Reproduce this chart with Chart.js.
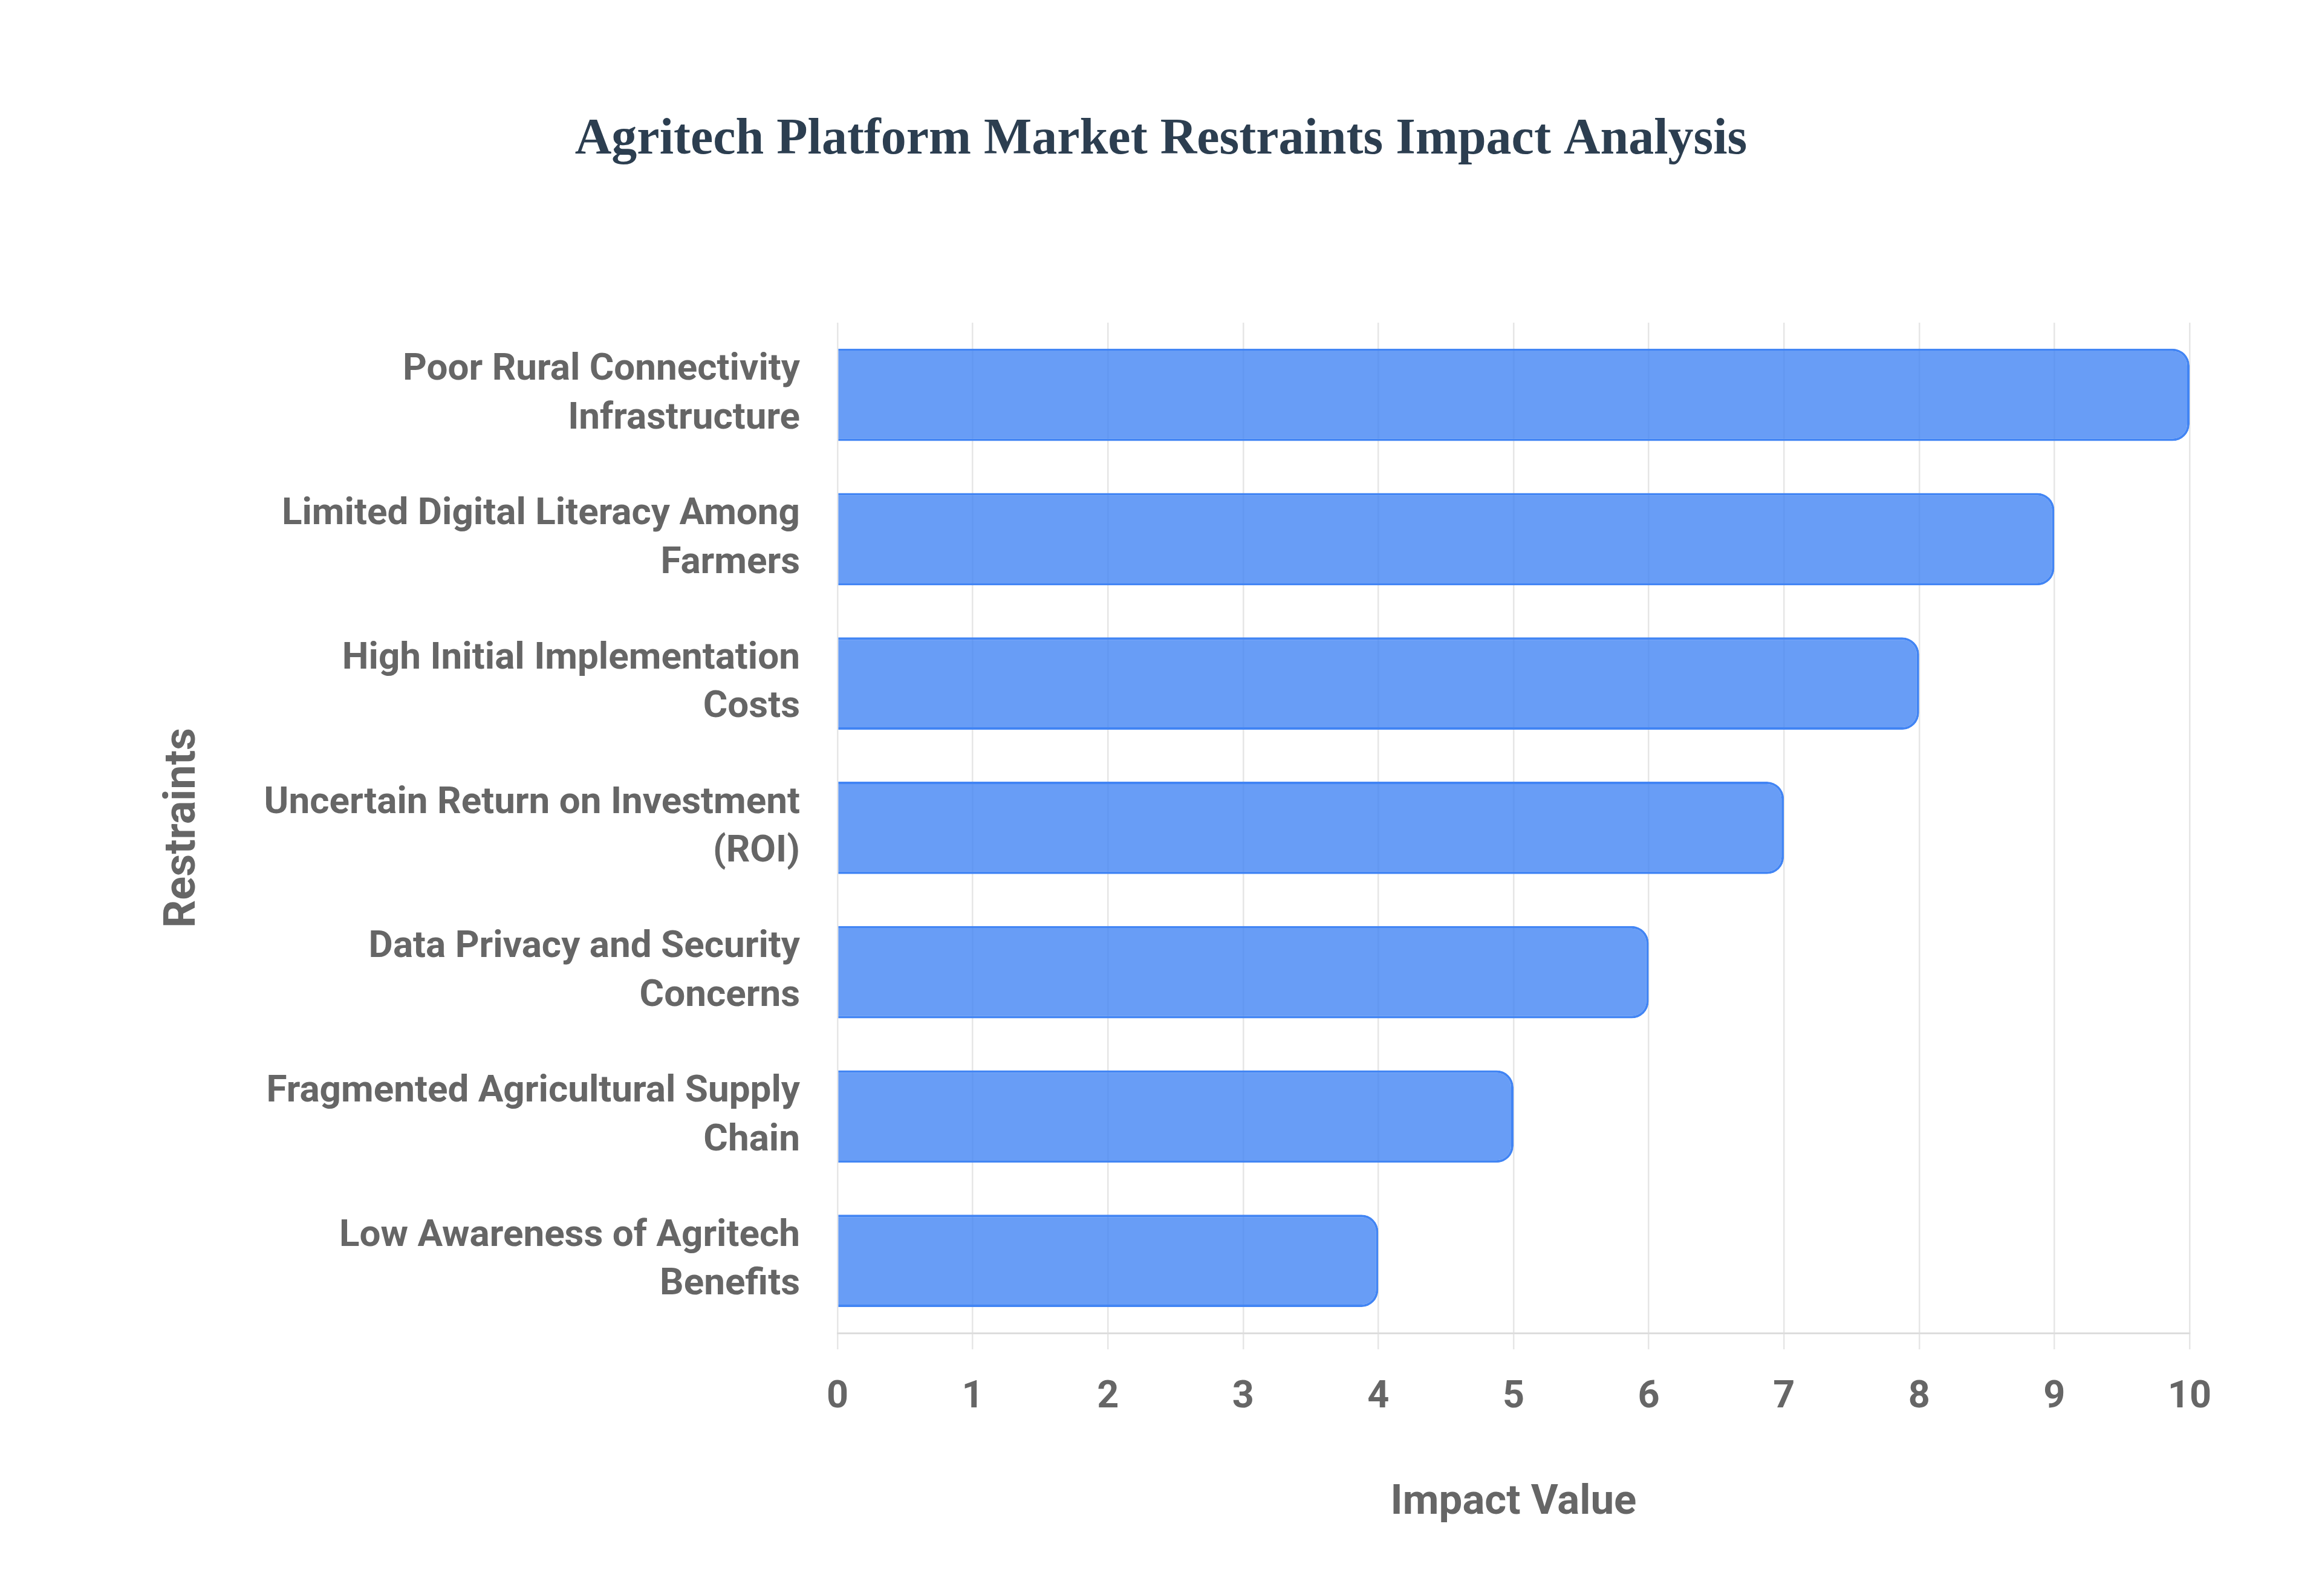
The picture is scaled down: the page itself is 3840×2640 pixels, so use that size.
<!DOCTYPE html>
<html>
<head>
<meta charset="utf-8">
<title>Agritech Platform Market Restraints Impact Analysis</title>
<script src="https://cdn.jsdelivr.net/npm/chart.js@4.4.1/dist/chart.umd.min.js"></script>
<style>
  html, body { margin: 0; padding: 0; background: #ffffff; }
  #chart { width: 3840px; height: 2640px; }
</style>
</head>
<body>
<canvas id="chart" width="3840" height="2640"></canvas>
<script>
const restraints = [
  ["Poor Rural Connectivity", "Infrastructure"],
  ["Limited Digital Literacy Among", "Farmers"],
  ["High Initial Implementation", "Costs"],
  ["Uncertain Return on Investment", "(ROI)"],
  ["Data Privacy and Security", "Concerns"],
  ["Fragmented Agricultural Supply", "Chain"],
  ["Low Awareness of Agritech", "Benefits"],
];
const impactValues = [10, 9, 8, 7, 6, 5, 4];
const impactTicks = [0, 1, 2, 3, 4, 5, 6, 7, 8, 9, 10];

const sansFont = "Roboto, 'Liberation Sans', Arial, sans-serif";
const axisGrey = "#666666";

const canvas = document.getElementById("chart");

const chart = new Chart(canvas, {
  type: "bar",
  data: {
    labels: restraints,
    datasets: [{
      label: "Impact Value",
      data: impactValues,
      backgroundColor: "rgba(66, 133, 244, 0.8)",
      borderColor: "#4285f4",
      borderWidth: 4,
      borderRadius: 28,
      categoryPercentage: 0.8,
      barPercentage: 0.8,
    }],
  },
  options: {
    indexAxis: "y",
    responsive: false,
    devicePixelRatio: 1,
    animation: false,
    layout: {
      // same left/right padding so the title stays centred on the page
      padding: { top: 0, left: 219, right: 219, bottom: 40 },
    },
    plugins: {
      legend: { display: false },
      tooltip: { enabled: false },
      title: {
        display: true,
        text: "Agritech Platform Market Restraints Impact Analysis",
        color: "#2c3e50",
        font: { family: "'Liberation Serif', 'Times New Roman', serif", size: 84, weight: "bold" },
        padding: { top: 182, bottom: 251 },
      },
    },
    scales: {
      x: {
        min: 0,
        max: 10,
        afterBuildTicks: (scale) => {
          scale.ticks = impactTicks.map((v) => ({ value: v }));
        },
        afterFit: (scale) => {
          scale.height = 2600 - 2205;
        },
        ticks: {
          color: axisGrey,
          padding: 42,
          font: { family: sansFont, size: 63, weight: "bold" },
        },
        grid: {
          color: "#e6e6e6",
          lineWidth: 2.5,
          tickLength: 27,
        },
        border: { color: "#dddddd", width: 3 },
        title: {
          display: true,
          text: "Impact Value",
          color: axisGrey,
          font: { family: sansFont, size: 69, weight: "bold" },
          padding: { top: 0, bottom: 72 },
        },
      },
      y: {
        afterFit: (scale) => {
          scale.width = 1385 - 219;
        },
        ticks: {
          color: axisGrey,
          padding: 62,
          font: { family: sansFont, size: 62, weight: "bold", lineHeight: 1.3 },
        },
        grid: { display: false, drawTicks: false },
        border: { display: false },
        title: {
          display: true,
          text: "Restraints",
          color: axisGrey,
          font: { family: sansFont, size: 72, weight: "bold" },
          padding: { top: 42, bottom: 0 },
        },
      },
    },
  },
});
</script>
</body>
</html>
